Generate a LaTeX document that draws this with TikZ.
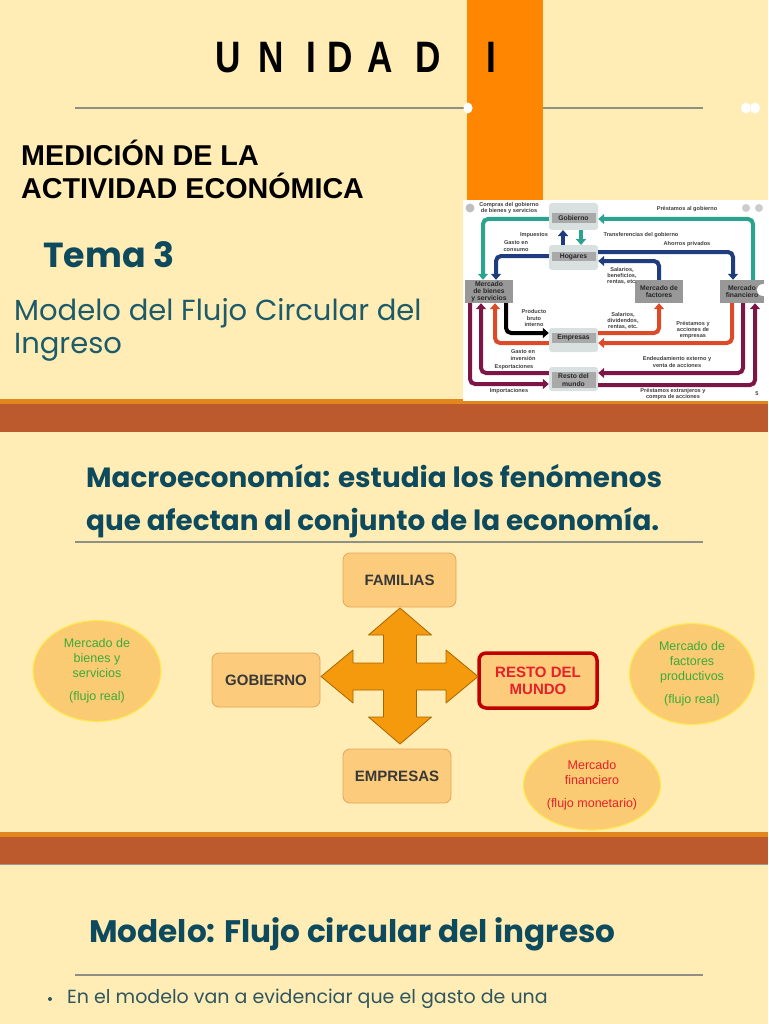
\documentclass[tikz,border=0pt]{standalone}
\usepackage{fontspec}
\setmainfont{Liberation Sans}
\newfontfamily\pop{Poppins}
\usetikzlibrary{arrows.meta}
\definecolor{bg}{HTML}{FFEDB5}
\definecolor{brown}{HTML}{BD5A2D}
\definecolor{orstrip}{HTML}{E2861E}
\definecolor{orbar}{HTML}{FF8600}
\definecolor{teal}{HTML}{0E4A5E}
\definecolor{tealtxt}{HTML}{1D5B6B}
\definecolor{rulec}{HTML}{8F8F85}
\definecolor{boxfill}{HTML}{FCCB7B}
\definecolor{boxdraw}{HTML}{E5A458}
\definecolor{arrfill}{HTML}{F59A0C}
\definecolor{arrdraw}{HTML}{A86400}
\definecolor{ellfill}{HTML}{FACB72}
\definecolor{elldraw}{HTML}{FFE94F}
\definecolor{greentxt}{HTML}{3BAA3A}
\definecolor{redtxt}{HTML}{E8202A}
\definecolor{darkred}{HTML}{C00000}
\definecolor{dtxt}{HTML}{383838}
\definecolor{bullet}{HTML}{2F5660}
\definecolor{tealA}{HTML}{2AA48E}
\definecolor{navyA}{HTML}{1E3C7E}
\definecolor{redA}{HTML}{DC4A28}
\definecolor{maroonA}{HTML}{7D1547}
\definecolor{boxlt}{HTML}{D9E1E0}
\definecolor{boxdk}{HTML}{A9A9A9}
\tikzset{
  rulel/.style={draw=rulec, line width=1.1pt},
  letter/.style={anchor=base, inner sep=0pt, font=\fontsize{44}{44}\selectfont\bfseries, xscale=0.8},
  rbox/.style={draw=boxdraw, fill=boxfill, rounded corners=7pt, line width=0.8pt, font=\fontsize{15}{17}\selectfont\bfseries, text=dtxt, align=center},
  ell/.style={ellipse, draw=elldraw, fill=ellfill, line width=1.2pt, align=center, font=\fontsize{12.5}{15}\selectfont},
  outerbox/.style={fill=boxlt, rounded corners=3pt, inner sep=0pt},
  band/.style={fill=boxdk, inner sep=0pt, align=center, font=\fontsize{6.8}{7.2}\selectfont\bfseries, text=black!85},
  mkt/.style={fill=boxdk!90!black, inner sep=0pt, align=center, font=\fontsize{6.8}{7.2}\selectfont\bfseries, text=black!85},
  flow/.style={line width=4pt, rounded corners=5pt, -{Triangle[width=10pt,length=6pt]}},
  lbl/.style={inner sep=0pt, align=center, font=\fontsize{5.6}{6.2}\selectfont\bfseries, text=black!75},
}
\usetikzlibrary{shapes.geometric}
\begin{document}
\begin{tikzpicture}[x=1pt,y=-1pt]
\useasboundingbox (0,0) rectangle (768,1024);
\fill[bg] (0,0) rectangle (768,1024);
% ---------------- slide 1
\fill[orbar] (467,0) rectangle (543,201);
\draw[rulel] (75,108) -- (467,108);
\draw[rulel] (543,108) -- (703,108);
\fill[white] (468,108) ellipse (4.5 and 5.5);
\fill[white] (746,108) ellipse (5 and 5.5);
\fill[white] (755,108) ellipse (5 and 5.5);
\node[letter] (u1) at (228,73) {U};
\node[letter] (u2) at (271.5,73) {N};
\node[letter] (u3) at (311,73) {I};
\node[letter] (u4) at (340.5,73) {D};
\node[letter] (u5) at (380,73) {A};
\node[letter] (u6) at (428.5,73) {D};
\node[letter] (u7) at (491.5,73) {I};
\node[anchor=base west, inner sep=0pt, font=\fontsize{28.7}{33}\selectfont\bfseries, align=left] (med) at (21,199) {MEDICIÓN DE LA\\ACTIVIDAD ECONÓMICA};
\node[anchor=base west, inner sep=0pt, font=\pop\fontsize{34.8}{34}\selectfont\bfseries, text=teal] (tema) at (43,267) {Tema 3};
\node[anchor=base west, inner sep=0pt, font=\pop\fontsize{29}{33}\selectfont, text=tealtxt, align=left] (mod) at (14,353) {Modelo del Flujo Circular del\\Ingreso};
% embedded diagram
\fill[white] (463,200) rectangle (768,401);
\fill[black!25] (470,208) circle (4.5);
\fill[black!20] (746,208) circle (4);
\fill[black!20] (759,208) circle (4);
% boxes
\node[outerbox, minimum width=49pt, minimum height=27pt] (gobo) at (573.5,216.5) {};
\node[band, minimum width=44pt, minimum height=10pt] (gob) at (573.5,218) {Gobierno};
\node[outerbox, minimum width=49pt, minimum height=25pt] (hogo) at (573.5,257.5) {};
\node[band, minimum width=44pt, minimum height=9pt] (hog) at (573.5,256.5) {Hogares};
\node[outerbox, minimum width=49pt, minimum height=24pt] (empo) at (573.5,340) {};
\node[band, minimum width=44pt, minimum height=10pt] (emp) at (573.5,338) {Empresas};
\node[outerbox, minimum width=49pt, minimum height=24pt] (rdmo) at (573.5,379) {};
\node[band, minimum width=44pt, minimum height=16pt] (rdm) at (573.5,380) {Resto del\\mundo};
\node[mkt, minimum width=48pt, minimum height=23pt] (mbs) at (489,291.5) {Mercado\\de bienes\\y servicios};
\node[mkt, minimum width=48pt, minimum height=23pt] (mfa) at (659,291.5) {Mercado de\\factores};
\node[mkt, minimum width=44pt, minimum height=23pt] (mfi) at (742,291.5) {Mercado\\financiero};
% flows
\draw[flow, tealA] (gobo.west |- 0,219) -| (mbs.north -| 483,0);
\draw[flow, tealA] (mfi.north -| 753,0) |- (gobo.east |- 0,219);
\draw[flow, tealA] (581,230) -- (581,245);
\draw[flow, navyA] (563,245) -- (563,230);
\draw[flow, navyA] (hogo.west |- 0,256) -| (mbs.north -| 496,0);
\draw[flow, navyA] (hogo.east |- 0,252) -| (mfi.north -| 733,0);
\draw[flow, navyA] (mfa.north) |- (hogo.east |- 0,261);
\draw[flow, black] (mbs.south -| 506,0) |- (empo.west |- 0,333);
\draw[flow, redA] (empo.west |- 0,343) -| (mbs.south -| 495,0);
\draw[flow, redA] (empo.east |- 0,333) -| (mfa.south);
\draw[flow, redA] (mfi.south -| 732,0) |- (empo.east |- 0,343);
\draw[flow, maroonA] (rdmo.west |- 0,373) -| (mbs.south -| 481,0);
\draw[flow, maroonA] (mbs.south -| 470,0) |- (rdmo.west |- 0,384);
\draw[flow, maroonA] (mfi.south -| 743,0) |- (rdmo.east |- 0,373);
\draw[flow, maroonA] (rdmo.east |- 0,385) -| (mfi.south -| 755,0);
\fill[white] (763,290) circle (6);
% labels
\node[lbl] (l1) at (509,208) {Compras del gobierno\\de bienes y servicios};
\node[lbl] (l2) at (687,209) {Préstamos al gobierno};
\node[lbl] (l3) at (534,235) {Impuestos};
\node[lbl] (l4) at (641,235) {Transferencias del gobierno};
\node[lbl] (l5) at (516,246) {Gasto en\\consumo};
\node[lbl] (l6) at (687,244) {Ahorros privados};
\node[lbl] (l7) at (622,276) {Salarios,\\beneficios,\\rentas, etc.};
\node[lbl] (l8) at (534,318) {Producto\\bruto\\interno};
\node[lbl] (l9) at (623,321) {Salarios,\\dividendos,\\rentas, etc.};
\node[lbl] (l10) at (693,330) {Préstamos y\\acciones de\\empresas};
\node[lbl] (l11) at (523,355) {Gasto en\\inversión};
\node[lbl] (l12) at (514,367) {Exportaciones};
\node[lbl] (l13) at (677,362) {Endeudamiento externo y\\venta de acciones};
\node[lbl] (l14) at (509,391) {Importaciones};
\node[lbl] (l15) at (673,394) {Préstamos extranjeros y\\compra de acciones};
\node[lbl] (l16) at (757,394) {5};
% strips
\fill[orstrip] (0,399) rectangle (463,404);
\fill[orstrip] (463,401) rectangle (768,404);
\fill[brown] (0,404) rectangle (768,432);
% ---------------- slide 2
\node[anchor=base west, inner sep=0pt, font=\pop\fontsize{27.8}{43}\selectfont\bfseries, text=teal, align=left] (macro) at (86,530) {Macroeconomía: estudia los fenómenos\\que afectan al conjunto de la economía.};
\draw[rulel] (75,542) -- (703,542);
\node[rbox, minimum width=113pt, minimum height=54pt] (fam) at (399.5,580) {FAMILIAS};
\node[rbox, minimum width=108pt, minimum height=54pt] (gobi) at (266,680) {GOBIERNO};
\node[rbox, minimum width=108pt, minimum height=54pt] (empr) at (397,776) {EMPRESAS};
\node[rbox, draw=darkred, line width=3.5pt, minimum width=118pt, minimum height=55pt, text=redtxt] (resto) at (538,680.5) {RESTO DEL\\MUNDO};
\filldraw[fill=arrfill, draw=arrdraw, line width=0.8pt, line join=round]
 (400,608) -- (431.5,635) -- (416.5,635) -- (416.5,663) -- (446,663) -- (446,650) -- (478,676.5)
 -- (446,703) -- (446,690) -- (416.5,690) -- (416.5,717) -- (431.5,717) -- (400,744)
 -- (368.5,717) -- (383.5,717) -- (383.5,690) -- (353,690) -- (353,703) -- (321,676.5)
 -- (353,650) -- (353,663) -- (383.5,663) -- (383.5,635) -- (368.5,635) -- cycle;
\node[ell, minimum width=128pt, minimum height=91pt, text=greentxt] (e1) at (97,671) {Mercado de\\bienes y\\servicios\\[8pt](flujo real)};
\node[ell, minimum width=125pt, minimum height=90pt, text=greentxt] (e2) at (692,674) {Mercado de\\factores\\productivos\\[8pt](flujo real)};
\node[ell, minimum width=126pt, minimum height=90pt, text=redtxt] (e3) at (592,785) {Mercado\\financiero\\[8pt](flujo monetario)};
\fill[orstrip] (0,832) rectangle (768,837);
\fill[brown] (0,837) rectangle (768,864);
\draw[black!40, line width=0.6pt] (0,864) -- (768,864);
% ---------------- slide 3
\node[anchor=base west, inner sep=0pt, font=\pop\fontsize{31.1}{31}\selectfont\bfseries, text=teal] (modelo) at (89,942) {Modelo: Flujo circular del ingreso};
\draw[rulel] (75,975) -- (703,975);
\fill[bullet] (50,999) circle (2);
\node[anchor=base west, inner sep=0pt, font=\pop\fontsize{19}{20}\selectfont, text=bullet] (b1) at (67,1003) {En el modelo van a evidenciar que el gasto de una};
\end{tikzpicture}
\end{document}
